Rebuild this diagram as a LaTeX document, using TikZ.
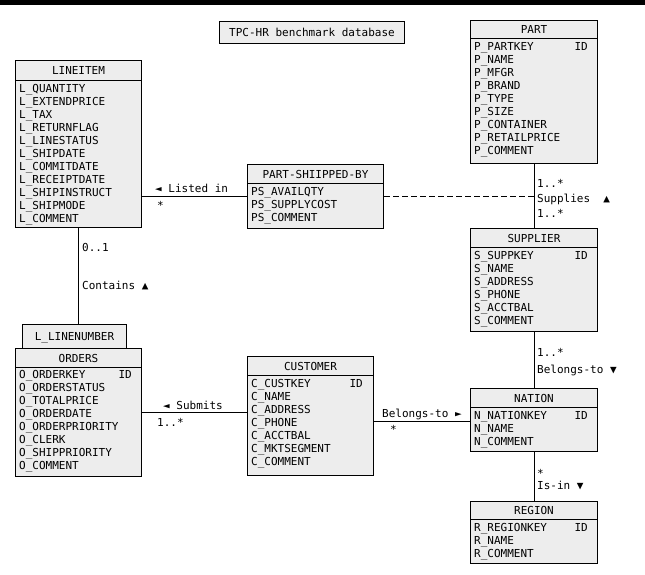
\documentclass[tikz,border=0pt]{standalone}
\usepackage{fontspec}
\newfontfamily\djmono{DejaVu Sans Mono}
\tikzset{
  boxline/.style={draw=black, line width=1pt, fill=black!7},
  hdr/.style={boxline, inner sep=0pt, text height=8pt, text depth=0pt, text=black, font={\djmono\fontsize{11pt}{13pt}\selectfont}},
  bdy/.style={boxline, inner sep=0pt},
  txt/.style={inner sep=0pt, text=black, font={\djmono\fontsize{11pt}{13pt}\selectfont}},
  conn/.style={draw=black, line width=1pt},
  dashconn/.style={conn, dash pattern=on 6pt off 3pt}
}
\newcommand\rowlist[1]{\parbox[t]{160pt}{\fontsize{11pt}{13pt}\selectfont #1}}
% name, x0, x1, top, header bottom, bottom, title
\newcommand\entbox[7]{%
  \node[hdr, minimum width={#3-#2}, minimum height={#5-#4}, anchor=north west] (#1H) at (#2,#4) {#7};
  \node[bdy, minimum width={#3-#2}, minimum height={#6-#5}, anchor=north west] (#1B) at (#2,#5) {};
}
\begin{document}
\begin{tikzpicture}[x=1pt,y=-1pt]
\useasboundingbox (0,0) rectangle (645,574);
\fill[black] (0,0) rectangle (645,5);

% title
\node[hdr, minimum width=185, minimum height=22, anchor=north west] (title) at (219,21) {TPC-HR benchmark database};

% LINEITEM
\entbox{li}{15}{141}{60}{80}{227}{LINEITEM}
\node[txt, anchor=base west] (liR) at (19,92) {\rowlist{L\_QUANTITY\\L\_EXTENDPRICE\\L\_TAX\\L\_RETURNFLAG\\L\_LINESTATUS\\L\_SHIPDATE\\L\_COMMITDATE\\L\_RECEIPTDATE\\L\_SHIPINSTRUCT\\L\_SHIPMODE\\L\_COMMENT}};

% PART
\entbox{part}{470}{597}{20}{38}{163}{PART}
\node[txt, anchor=base west] (partR) at (474,50) {\rowlist{P\_PARTKEY\\P\_NAME\\P\_MFGR\\P\_BRAND\\P\_TYPE\\P\_SIZE\\P\_CONTAINER\\P\_RETAILPRICE\\P\_COMMENT}};
\node[txt, anchor=base east] (partID) at (588,50) {ID};

% PART-SHIPPED-BY
\entbox{ps}{247}{383}{164}{183}{228}{PART-SHIIPPED-BY}
\node[txt, anchor=base west] (psR) at (251,195) {\rowlist{PS\_AVAILQTY\\PS\_SUPPLYCOST\\PS\_COMMENT}};

% SUPPLIER
\entbox{sup}{470}{597}{228}{247}{331}{SUPPLIER}
\node[txt, anchor=base west] (supR) at (474,259) {\rowlist{S\_SUPPKEY\\S\_NAME\\S\_ADDRESS\\S\_PHONE\\S\_ACCTBAL\\S\_COMMENT}};
\node[txt, anchor=base east] (supID) at (588,259) {ID};

% L_LINENUMBER
\node[hdr, minimum width=104, minimum height=24, anchor=north west] (lnum) at (22,324) {L\_LINENUMBER};

% ORDERS
\entbox{ord}{15}{141}{348}{367}{476}{ORDERS}
\node[txt, anchor=base west] (ordR) at (19,378) {\rowlist{O\_ORDERKEY\\O\_ORDERSTATUS\\O\_TOTALPRICE\\O\_ORDERDATE\\O\_ORDERPRIORITY\\O\_CLERK\\O\_SHIPPRIORITY\\O\_COMMENT}};
\node[txt, anchor=base east] (ordID) at (132,378) {ID};

% CUSTOMER
\entbox{cus}{247}{373}{356}{375}{475}{CUSTOMER}
\node[txt, anchor=base west] (cusR) at (251,387) {\rowlist{C\_CUSTKEY\\C\_NAME\\C\_ADDRESS\\C\_PHONE\\C\_ACCTBAL\\C\_MKTSEGMENT\\C\_COMMENT}};
\node[txt, anchor=base east] (cusID) at (363,387) {ID};

% NATION
\entbox{nat}{470}{597}{388}{407}{451}{NATION}
\node[txt, anchor=base west] (natR) at (474,419) {\rowlist{N\_NATIONKEY\\N\_NAME\\N\_COMMENT}};
\node[txt, anchor=base east] (natID) at (588,419) {ID};

% REGION
\entbox{reg}{470}{597}{501}{519}{563}{REGION}
\node[txt, anchor=base west] (regR) at (474,531) {\rowlist{R\_REGIONKEY\\R\_NAME\\R\_COMMENT}};
\node[txt, anchor=base east] (regID) at (588,531) {ID};

% connectors
\coordinate (yL) at (0,196);
\coordinate (yS) at (0,412);
\coordinate (yB) at (0,421);
\draw[conn] (yL -| liB.east) -- (yL -| psB.west);
\draw[dashconn] (yL -| psB.east) -- (yL -| partB.south);
\draw[conn] (partB.south) -- (supH.north);
\draw[conn] (liB.south) -- (liB.south |- lnum.north);
\draw[conn] (yS -| ordB.east) -- (yS -| cusB.west);
\draw[conn] (yB -| cusB.east) -- (yB -| natB.west);
\draw[conn] (supB.south) -- (natH.north);
\draw[conn] (natB.south) -- (regH.north);

% labels
\node[txt, anchor=base west] (l1) at (155,192) {◄ Listed in};
\node[txt, anchor=base west] (l2) at (157,209) {*};
\node[txt, anchor=base west] (l3) at (537,187) {1..*};
\node[txt, anchor=base west] (l4) at (537,202) {Supplies\ \ ▲};
\node[txt, anchor=base west] (l5) at (537,217) {1..*};
\node[txt, anchor=base west] (l6) at (82,251) {0..1};
\node[txt, anchor=base west] (l7) at (82,289) {Contains ▲};
\node[txt, anchor=base west] (l8) at (163,409) {◄ Submits};
\node[txt, anchor=base west] (l9) at (157,426) {1..*};
\node[txt, anchor=base west] (l10) at (382,417) {Belongs-to ►};
\node[txt, anchor=base west] (l11) at (390,433) {*};
\node[txt, anchor=base west] (l12) at (537,356) {1..*};
\node[txt, anchor=base west] (l13) at (537,373) {Belongs-to ▼};
\node[txt, anchor=base west] (l14) at (537,477) {*};
\node[txt, anchor=base west] (l15) at (537,489) {Is-in ▼};
\end{tikzpicture}
\end{document}
